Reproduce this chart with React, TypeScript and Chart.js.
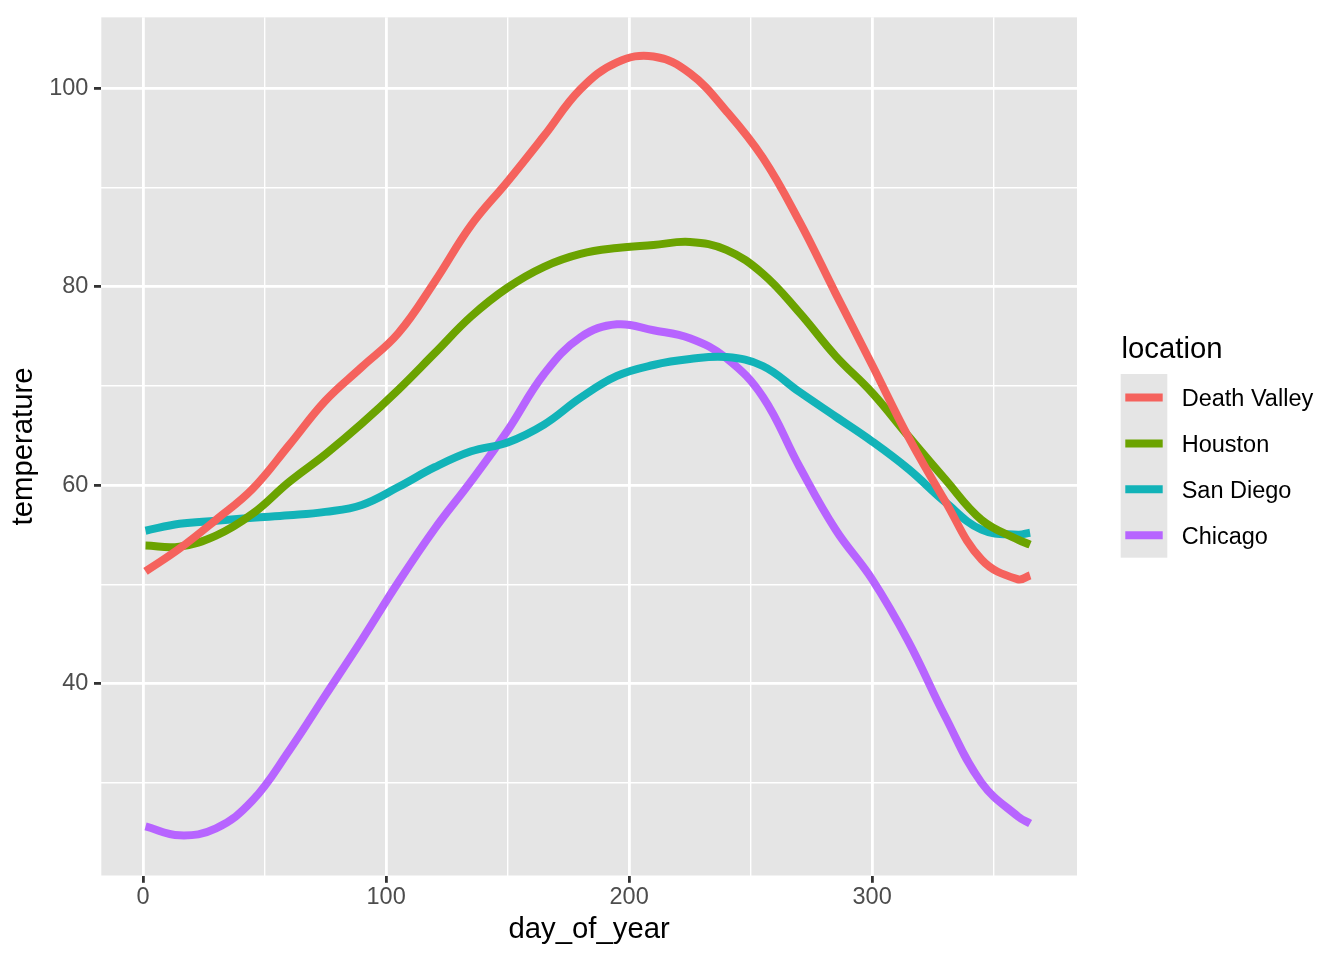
import React, { useEffect, useRef } from "react";
import { Chart, registerables } from "chart.js";

Chart.register(...registerables);

const FONT = '"Liberation Sans", Arial, Helvetica, sans-serif';

// day of year at which the smoothed curves are sampled
const days = [1, 15, 30, 45, 60, 75, 90, 105, 120, 135, 150, 165, 180, 195, 210, 225, 240, 255, 270, 285, 300, 315, 330, 345, 360, 365];

const locations = ["Death Valley", "Houston", "San Diego", "Chicago"];

const deathValley = [51.3, 53.6, 56.5, 59.6, 64.0, 68.5, 71.9, 75.3, 80.5, 86.2, 90.6, 95.2, 99.9, 102.6, 103.2, 101.5, 97.7, 93.0, 86.6, 79.3, 72.1, 64.8, 58.4, 52.5, 50.5, 50.9];
const houston = [53.9, 53.8, 54.9, 57.1, 60.3, 63.1, 66.2, 69.6, 73.3, 77.0, 79.9, 82.0, 83.3, 83.9, 84.2, 84.5, 83.7, 81.3, 77.4, 73.0, 69.3, 64.9, 60.6, 56.5, 54.5, 54.0];
const sanDiego = [55.4, 56.1, 56.4, 56.7, 56.95, 57.3, 58.0, 59.8, 61.8, 63.4, 64.3, 66.1, 68.8, 71.0, 72.1, 72.7, 72.9, 72.0, 69.4, 66.9, 64.4, 61.6, 58.3, 55.5, 55.0, 55.2];
const chicago = [25.6, 24.7, 25.4, 28.2, 33.2, 38.8, 44.4, 50.2, 55.6, 60.4, 65.5, 71.2, 74.9, 76.2, 75.6, 74.8, 72.8, 68.9, 61.9, 55.5, 50.5, 44.2, 36.7, 30.0, 26.6, 25.9];

const colors = ["#F5625D", "#6BA300", "#12B3B8", "#B764FF"];

// major (labelled) and minor grid positions
const xTickLabels = [0, 100, 200, 300];
const xGrid = [0, 50, 100, 150, 200, 250, 300, 350];
const yTickLabels = [40, 60, 80, 100];
const yGrid = [30, 40, 50, 60, 70, 80, 90, 100];

const PANEL_BG = "#E5E5E5";

export default function App() {
  const ref = useRef<HTMLCanvasElement>(null);

  useEffect(() => {
    document.body.style.margin = "0";
    const series = [deathValley, houston, sanDiego, chicago];

    const bgPlugin = {
      id: "panelBg",
      beforeDraw(chart: any) {
        const { ctx, chartArea: a } = chart;
        ctx.save();
        ctx.fillStyle = PANEL_BG;
        ctx.fillRect(a.left, a.top, a.right - a.left, a.bottom - a.top);
        ctx.restore();
      },
    };

    const legendPlugin = {
      id: "ggLegend",
      afterDraw(chart: any) {
        const ctx = chart.ctx;
        const left = chart.chartArea.right + 44;
        ctx.save();
        ctx.textAlign = "left";
        ctx.textBaseline = "alphabetic";
        ctx.fillStyle = "#000000";
        ctx.font = `29.3px ${FONT}`;
        ctx.fillText("location", left + 0.5, 358);
        ctx.fillStyle = PANEL_BG;
        ctx.fillRect(left - 0.3, 374, 46.6, 183.7);
        locations.forEach((name, i) => {
          const cy = 397.5 + i * 45.9;
          ctx.strokeStyle = colors[i];
          ctx.lineWidth = 8;
          ctx.lineCap = "butt";
          ctx.beginPath();
          ctx.moveTo(left + 4.3, cy);
          ctx.lineTo(left + 41.7, cy);
          ctx.stroke();
          ctx.fillStyle = "#000000";
          ctx.font = `23.5px ${FONT}`;
          ctx.fillText(name, left + 60.7, cy + 8.5);
        });
        ctx.restore();
      },
    };

    const isMajor = (c: any, list: number[]) => !!(c.tick && list.includes(c.tick.value));

    const chart = new Chart(ref.current as HTMLCanvasElement, {
      type: "line",
      data: {
        datasets: locations.map((name, i) => ({
          label: name,
          data: days.map((d, j) => ({ x: d, y: series[i][j] })),
          borderColor: colors[i],
          backgroundColor: colors[i],
          borderWidth: 8,
          pointRadius: 0,
          pointHoverRadius: 0,
          tension: 0.4,
          fill: false,
          borderJoinStyle: "round",
        })),
      },
      options: {
        responsive: false,
        animation: false,
        layout: { padding: { top: 14.7, right: 267, left: 0, bottom: 0 } },
        plugins: {
          legend: { display: false },
          tooltip: { enabled: false },
        },
        scales: {
          x: {
            type: "linear",
            min: -17.2,
            max: 384.3,
            afterBuildTicks(s: any) {
              s.ticks = xGrid.map((v) => ({ value: v }));
            },
            afterFit(s: any) {
              s.height = 84.5;
            },
            border: { display: false },
            grid: {
              color: "#FFFFFF",
              lineWidth: (c: any) => (isMajor(c, xTickLabels) ? 2.8 : 1.4),
              tickColor: (c: any) => (isMajor(c, xTickLabels) ? "#333333" : "rgba(0,0,0,0)"),
              tickLength: 7.3,
              tickWidth: 2.8,
            },
            ticks: {
              autoSkip: false,
              maxRotation: 0,
              padding: 3.4,
              color: "#4D4D4D",
              font: { family: FONT, size: 23.5, lineHeight: 1 },
              callback: (v: any) => (xTickLabels.includes(Number(v)) ? String(v) : ""),
            },
            title: {
              display: true,
              text: "day_of_year",
              color: "#000000",
              font: { family: FONT, size: 29.3, lineHeight: 1 },
              padding: { top: 0, bottom: 15.3 },
            },
          },
          y: {
            type: "linear",
            min: 20.65,
            max: 107.14,
            afterBuildTicks(s: any) {
              s.ticks = yGrid.map((v) => ({ value: v }));
            },
            afterFit(s: any) {
              s.width = 101.3;
            },
            border: { display: false },
            grid: {
              color: "#FFFFFF",
              lineWidth: (c: any) => (isMajor(c, yTickLabels) ? 2.8 : 1.4),
              tickColor: (c: any) => (isMajor(c, yTickLabels) ? "#333333" : "rgba(0,0,0,0)"),
              tickLength: 7.3,
              tickWidth: 2.8,
            },
            ticks: {
              autoSkip: false,
              padding: 5.6,
              color: "#4D4D4D",
              font: { family: FONT, size: 23.5, lineHeight: 1 },
              callback: (v: any) => (yTickLabels.includes(Number(v)) ? String(v) : ""),
            },
            title: {
              display: true,
              text: "temperature",
              color: "#000000",
              font: { family: FONT, size: 29.3, lineHeight: 1 },
              padding: { top: 9.5, bottom: 0 },
            },
          },
        },
      } as any,
      plugins: [bgPlugin, legendPlugin],
    });

    return () => chart.destroy();
  }, []);

  return (
    <div style={{ position: "fixed", left: 0, top: 0, width: 1344, height: 960, background: "#FFFFFF" }}>
      <canvas ref={ref} width={1344} height={960} style={{ width: 1344, height: 960, display: "block" }} />
    </div>
  );
}
